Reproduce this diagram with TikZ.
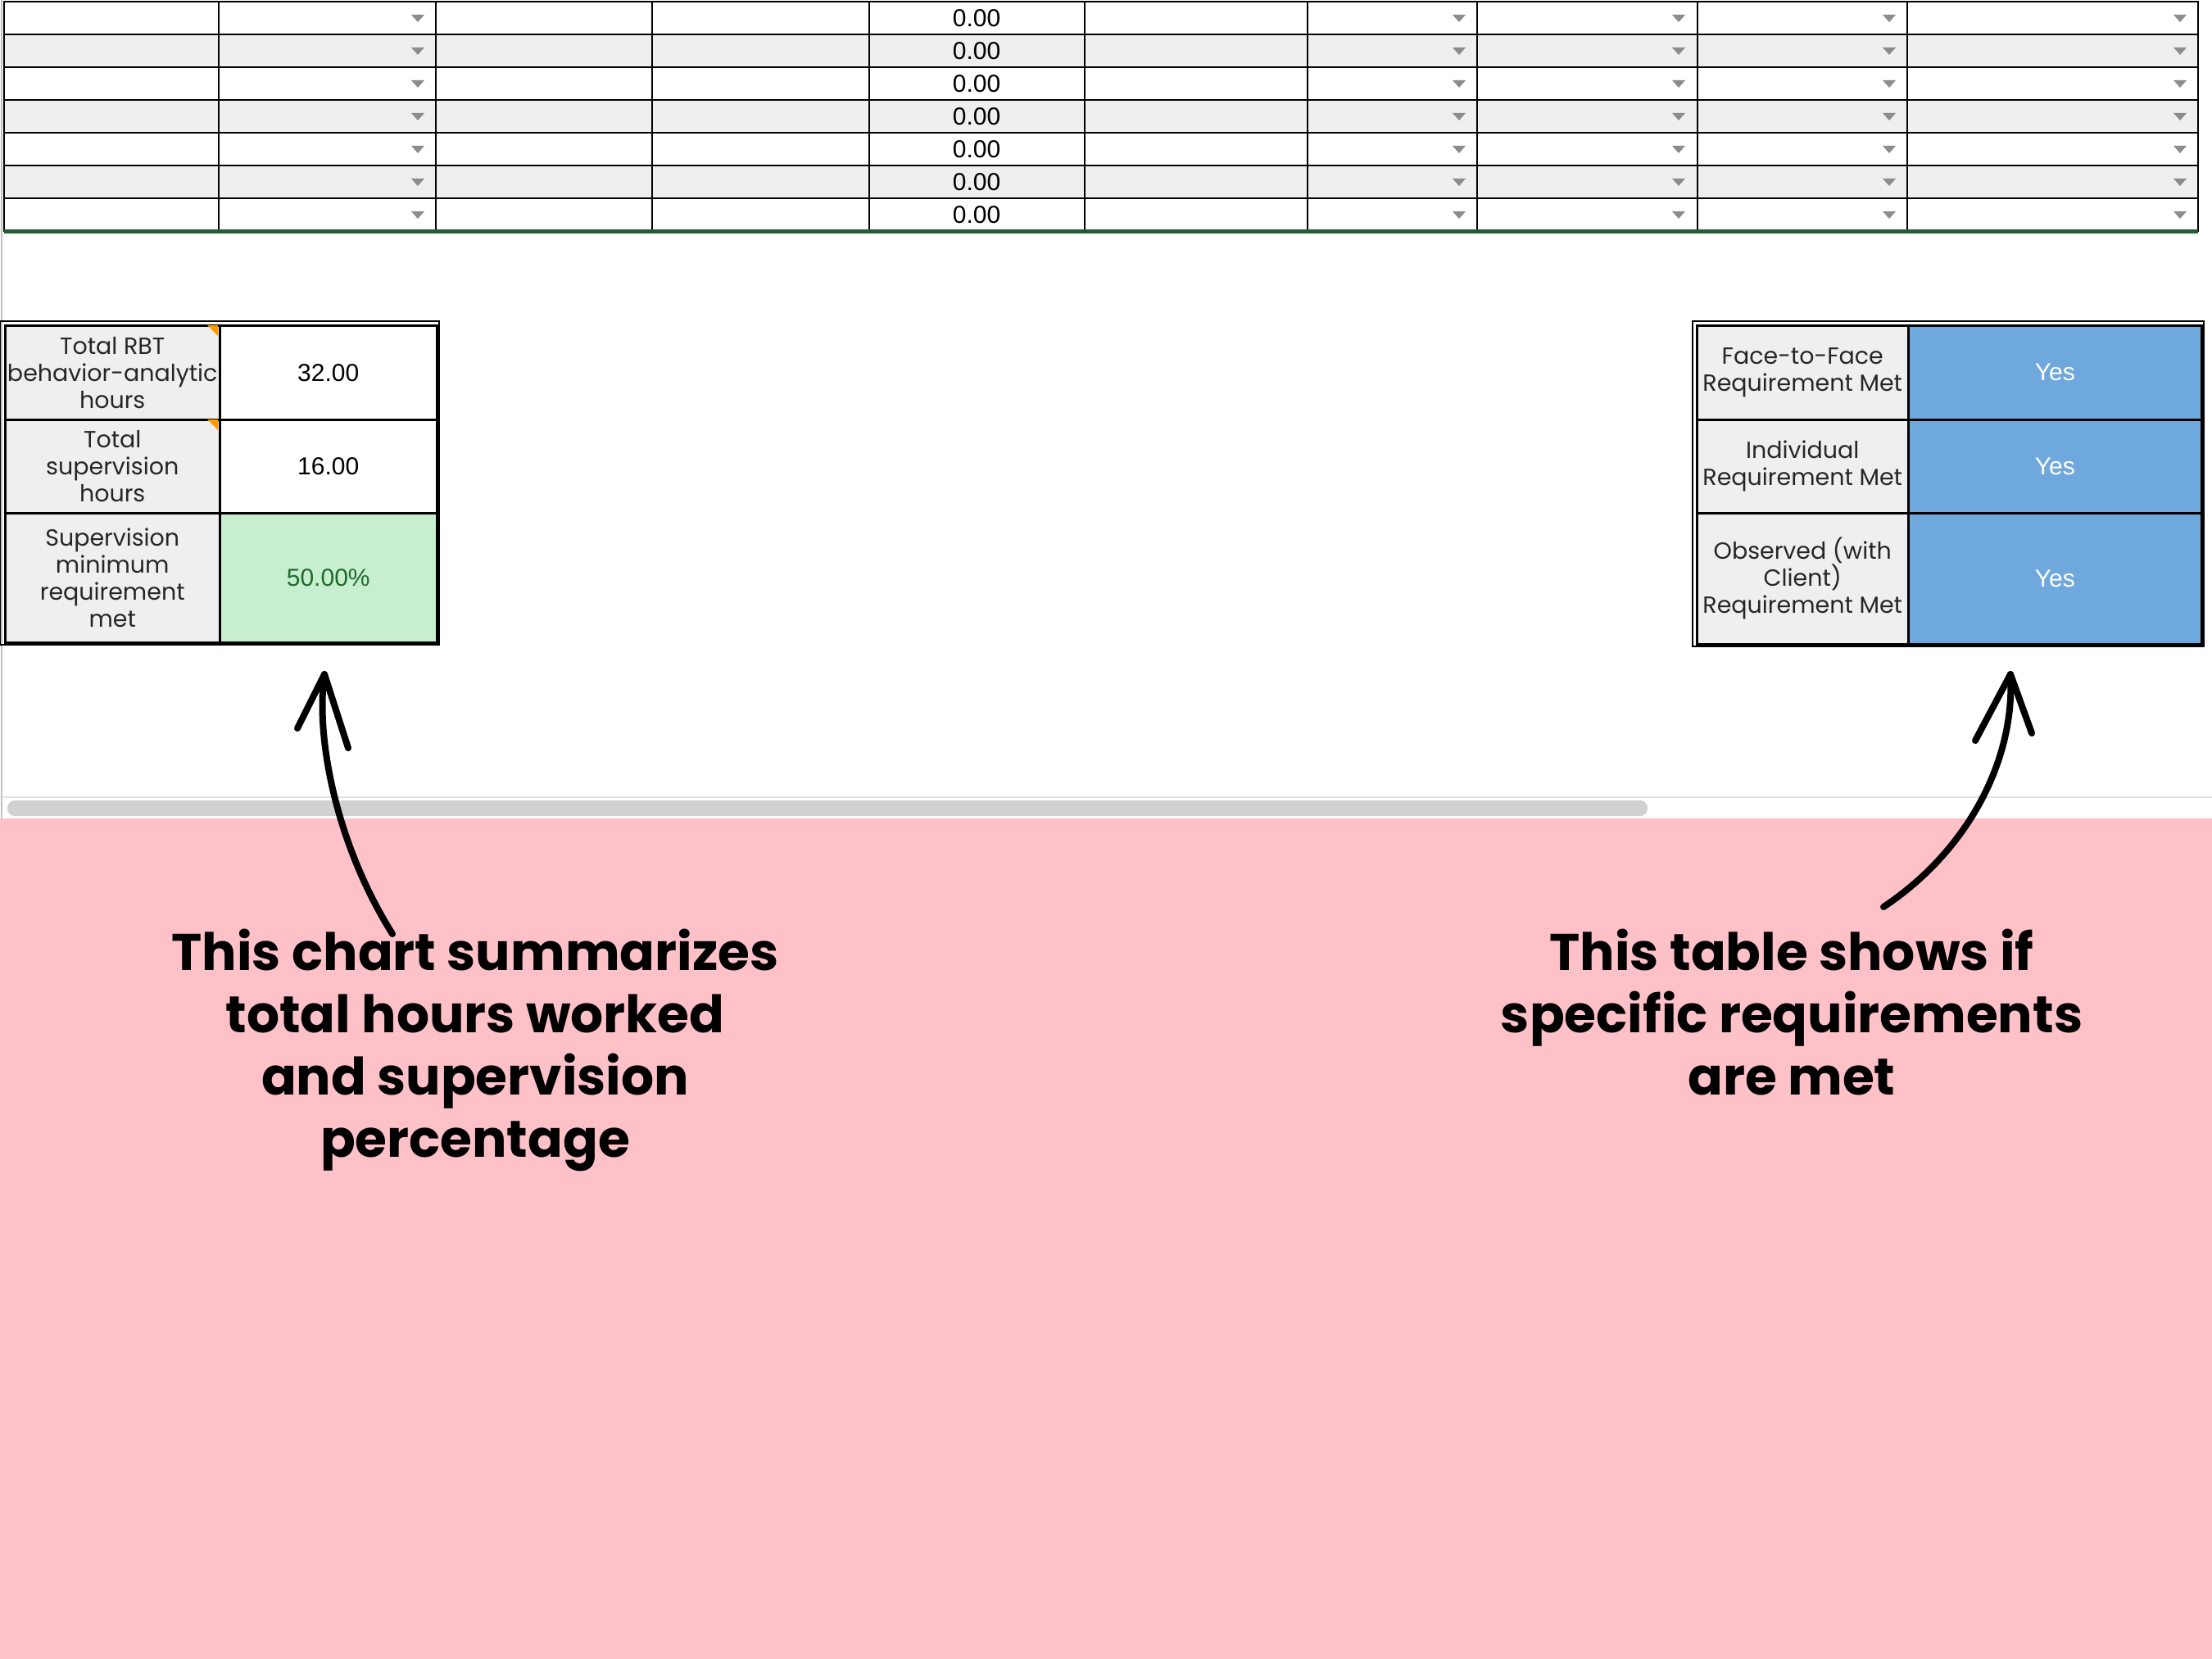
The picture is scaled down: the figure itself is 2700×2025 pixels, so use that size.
\documentclass[tikz,border=0pt]{standalone}
\usepackage{fontspec}
\setmainfont{Poppins}
\newfontfamily\numfont{Liberation Sans}
\usetikzlibrary{arrows.meta}
\definecolor{pinkbg}{HTML}{FEC1C8}
\definecolor{rowgrey}{HTML}{EFEFEF}
\definecolor{yesblue}{HTML}{6FA8DC}
\definecolor{okgreen}{HTML}{C8EED0}
\definecolor{darkgreen}{HTML}{1E6B2A}
\definecolor{tabgreen}{HTML}{245C33}
\tikzset{
  cell/.style={draw=black,line width=2.5pt,inner sep=0pt,anchor=north west,align=center},
  lbl/.style={font=\fontsize{28.5}{33}\selectfont,text=black!85},
  val/.style={font=\numfont\fontsize{30}{33}\selectfont},
  callout/.style={font=\bfseries\fontsize{63}{76}\selectfont,align=center,text=black},
  curvy/.style={line width=8pt,line cap=round,line join=round,black},
}
\begin{document}
\begin{tikzpicture}[x=1pt,y=-1pt]
\useasboundingbox (0,0) rectangle (2700,2025);
\fill[white] (0,0) rectangle (2700,2025);
\fill[pinkbg] (0,999) rectangle (2700,2025);
\draw[black!25,line width=1.5pt] (2,0) -- (2,999);
\draw[black!12,line width=2pt] (0,973) -- (2700,973);
\fill[black!18,rounded corners=9pt] (9,977) rectangle (2011,996);
% top table
\foreach \r in {0,...,6}{
  \pgfmathsetmacro{\yy}{2+40*\r}
  \ifodd\r \def\bg{rowgrey}\else\def\bg{white}\fi
  \fill[\bg] (5,\yy) rectangle (2683,\yy+40);
  \foreach \xa/\xb [count=\c] in {5/267,267/532,532/796,796/1061,1061/1324,1324/1596,1596/1803,1803/2072,2072/2328,2328/2683}{
    \draw[line width=2.5pt] (\xa,\yy) rectangle (\xb,\yy+40);
  }
  \node[val,font=\numfont\fontsize{30}{30}\selectfont] (z\r) at (1192,\yy+20) {0.00};
  \foreach \ax in {510,1781,2049,2306,2661}{
    \fill[black!45] (\ax-8,\yy+16) -- (\ax+8,\yy+16) -- (\ax,\yy+25) -- cycle;
  }
}
\draw[tabgreen,line width=5pt] (5,283) -- (2683,283);
% left summary table
\draw[line width=2pt] (0,392) rectangle (536,787);
\node[cell,fill=rowgrey,minimum width=262pt,minimum height=115pt,lbl] (l1) at (5,396) {Total RBT\\behavior-analytic\\hours};
\node[cell,fill=white,minimum width=265pt,minimum height=115pt,val] (v1) at (267,396) {32.00};
\node[cell,fill=rowgrey,minimum width=262pt,minimum height=114pt,lbl] (l2) at (5,511) {Total\\supervision\\hours};
\node[cell,fill=white,minimum width=265pt,minimum height=114pt,val] (v2) at (267,511) {16.00};
\node[cell,fill=rowgrey,minimum width=262pt,minimum height=158pt,lbl] (l3) at (5,625) {Supervision\\minimum\\requirement\\met};
\node[cell,fill=okgreen,minimum width=265pt,minimum height=158pt,val,text=darkgreen] (v3) at (267,625) {50.00\%};
\fill[orange!80!yellow] (253,397) -- (266,397) -- (266,410) -- cycle;
\fill[orange!80!yellow] (253,512) -- (266,512) -- (266,525) -- cycle;
% right table
\draw[line width=2pt] (2066,392) rectangle (2690,789);
\node[cell,fill=rowgrey,minimum width=258pt,minimum height=115pt,lbl] (r1) at (2070,396) {Face-to-Face\\Requirement Met};
\node[cell,fill=yesblue,minimum width=358pt,minimum height=115pt,val,text=white] (y1) at (2328,396) {Yes};
\node[cell,fill=rowgrey,minimum width=258pt,minimum height=114pt,lbl] (r2) at (2070,511) {Individual\\Requirement Met};
\node[cell,fill=yesblue,minimum width=358pt,minimum height=114pt,val,text=white] (y2) at (2328,511) {Yes};
\node[cell,fill=rowgrey,minimum width=258pt,minimum height=160pt,lbl] (r3) at (2070,625) {Observed (with\\Client)\\Requirement Met};
\node[cell,fill=yesblue,minimum width=358pt,minimum height=160pt,val,text=white] (y3) at (2328,625) {Yes};
% callouts
\node[callout] (c1) at (580,1282) {This chart summarizes\\total hours worked\\and supervision\\percentage};
\node[callout] (c2) at (2187,1236) {This table shows if\\specific requirements\\are met};
\coordinate (t1) at (479,1140);
\coordinate (h1) at (396,823);
\coordinate (t2) at (2299,1107);
\coordinate (h2) at (2454,823);
\draw[curvy] (t1) .. controls (410,1030) and (385,900) .. (h1);
\draw[curvy] (363,889) -- (h1) -- (425,913);
\draw[curvy] (t2) .. controls (2400,1040) and (2460,930) .. (h2);
\draw[curvy] (2411,904) -- (h2) -- (2480,895);
\end{tikzpicture}
\end{document}
